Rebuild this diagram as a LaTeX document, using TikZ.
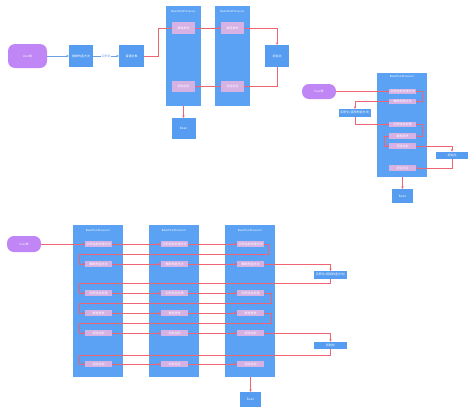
\documentclass[tikz,border=0pt]{standalone}
\usepackage{fontspec}
\setmainfont{Noto Sans CJK SC}
\usetikzlibrary{arrows.meta,calc}
\definecolor{colb}{RGB}{92,162,244}
\definecolor{boxb}{RGB}{86,156,240}
\definecolor{pinkc}{RGB}{214,178,228}
\definecolor{purp}{RGB}{192,134,246}
\definecolor{redc}{RGB}{238,100,114}
\definecolor{lineb}{RGB}{110,160,225}
\begin{document}
\begin{tikzpicture}[x=1pt,y=-1pt,
  every node/.style={inner sep=0pt,outer sep=0pt,text=white,font=\fontsize{3}{3.6}\selectfont},
  colbox/.style={fill=colb},
  ttl/.style={font=\fontsize{2.7}{3}\selectfont},
  pk/.style={fill=pinkc,minimum width=27pt,minimum height=6pt},
  bx/.style={fill=boxb},
  pu/.style={fill=purp,rounded corners=7pt},
  rl/.style={draw=redc,line width=0.7pt,-{Stealth[length=2.8pt,width=2.4pt]}},
  bl/.style={draw=lineb,line width=0.7pt,-{Stealth[length=2.8pt,width=2.4pt]}}]
\fill[white] (0,0) rectangle (474,413);
\useasboundingbox (0,0) rectangle (474,413);

% ---------- top diagram ----------
\node[pu,minimum width=39pt,minimum height=24pt] (tp) at (27.5,56) {User类};
\node[bx,minimum width=24pt,minimum height=22pt] (tb1) at (81,56) {推断构造方法};
\node[bx,minimum width=25pt,minimum height=22pt] (tb2) at (131.5,56) {普通对象};
\node[colbox,minimum width=35pt,minimum height=100pt] (ca) at (183.5,56) {};
\node[colbox,minimum width=35pt,minimum height=100pt] (cb) at (232.5,56) {};
\node[ttl] (cat) at (183.5,12) {BeanPostProcessor};
\node[ttl] (cbt) at (232.5,12) {BeanPostProcessor};
\node[pk,minimum width=23pt,minimum height=12pt] (tpa1) at (183.5,28) {属性填充};
\node[pk,minimum width=23pt,minimum height=12pt] (tpb1) at (232.5,28) {属性填充};
\node[pk,minimum width=23pt,minimum height=11pt] (tpa2) at (183.5,86.5) {初始化后};
\node[pk,minimum width=23pt,minimum height=11pt] (tpb2) at (232.5,86.5) {初始化后};
\node[bx,minimum width=24pt,minimum height=22pt] (tinit) at (277,56) {初始化};
\node[bx,minimum width=24pt,minimum height=21pt] (tbean) at (183.5,128.5) {Bean};

\draw[bl] (tp) -- (tb1);
\draw[bl] (tb1) -- node[fill=white,text=lineb,inner sep=0.5pt] (tlab) {实例化} (tb2);
\draw[rl] (tb2.east) -- ++(14,0) |- (tpa1.west);
\draw[rl] (tpa1) -- (tpb1);
\draw[rl] (tpb1.east) -| (tinit.north);
\draw[rl] (tinit.south) |- (tpb2.east);
\draw[rl] (tpb2) -- (tpa2);
\draw[rl] (ca.south -| tpa2) -- (tbean.north);

% ---------- right diagram ----------
\node[colbox,minimum width=50pt,minimum height=104pt] (cr) at (402,125) {};
\node[ttl] (crt) at (402,77) {BeanPostProcessor};
\node[pu,minimum width=34pt,minimum height=15pt] (rp) at (319,91.5) {User类};
\node[pk,minimum height=5.5pt] (r1) at (402.5,91.5) {实例化前处理方法};
\node[pk,minimum height=5.5pt] (r2) at (402.5,101.5) {推断构造方法};
\node[pk,minimum height=5.5pt] (r3) at (402.5,124.5) {实例化后处理};
\node[pk,minimum height=5.5pt] (r4) at (402.5,136) {属性填充};
\node[pk,minimum height=5.5pt] (r5) at (402.5,146) {初始化前};
\node[pk,minimum height=5.5pt] (r6) at (402.5,168) {初始化后};
\node[bx,minimum width=32pt,minimum height=8pt] (rl1) at (355,113) {实例化(调用构造方法)};
\node[bx,minimum width=32pt,minimum height=7.5pt] (rr1) at (452,155.5) {初始化};
\node[bx,minimum width=21pt,minimum height=14pt] (rbean) at (402.5,196) {Bean};

\draw[rl] (rp) -- (r1);
\draw[rl] (r1.east) -- ++(6.5,0) |- (r2.east);
\draw[rl] (r2.west) -| (rl1.north);
\draw[rl] (rl1.south) |- (r3.west);
\draw[rl] (r3.east) -- ++(6.5,0) |- (r4.east);
\draw[rl] (r4.west) -- ++(-5,0) |- (r5.west);
\draw[rl] (r5.east) -| (rr1.north);
\draw[rl] (rr1.south) |- (r6.east);
\draw[rl] (cr.south -| rbean) -- (rbean.north);

% ---------- bottom diagram ----------
\node[pu,minimum width=34pt,minimum height=16pt] (bp) at (24,244) {User类};
\foreach \i/\x in {1/98,2/174,3/250}{
  \node[colbox,minimum width=50pt,minimum height=152pt] (c\i) at (\x,301) {};
  \node[ttl] (ct\i) at (\x,231) {BeanPostProcessor};
}
\foreach \i/\x in {1/98.5,2/174.5,3/250.5}{
  \foreach \j/\y/\txt in {1/244/实例化前处理方法,2/264/推断构造方法,3/293/实例化后处理,4/313/属性填充,5/333/初始化前,6/364/初始化后}{
    \node[pk] (p\i\j) at (\x,\y) {\txt};
  }
}
\node[bx,minimum width=33pt,minimum height=8pt] (bb1) at (330.5,275) {实例化(调用构造方法)};
\node[bx,minimum width=33pt,minimum height=7.5pt] (bb2) at (330.5,345.5) {初始化};
\node[bx,minimum width=21pt,minimum height=15pt] (bbean) at (250.5,399.5) {Bean};

\draw[rl] (bp) -- (p11);
\foreach \j in {1,...,6}{
  \draw[rl] (p1\j) -- (p2\j);
  \draw[rl] (p2\j) -- (p3\j);
}
\draw[rl] (p31.east) -- ++(4.5,0) -- ++(0,10) -| ([xshift=-6pt]p12.west) -- (p12.west);
\draw[rl] (p32.east) -| (bb1.north);
\draw[rl] (bb1.south) -- ++(0,4) -| ([xshift=-6pt]p13.west) -- (p13.west);
\draw[rl] (p33.east) -- ++(7.5,0) -- ++(0,10) -| ([xshift=-6pt]p14.west) -- (p14.west);
\draw[rl] (p34.east) -- ++(7,0) -- ++(0,10) -| ([xshift=-6pt]p15.west) -- (p15.west);
\draw[rl] (p35.east) -| (bb2.north);
\draw[rl] (bb2.south) -- ++(0,6) -| ([xshift=-6pt]p16.west) -- (p16.west);
\draw[rl] (c3.south -| p36) -- (bbean.north);
\end{tikzpicture}
\end{document}
